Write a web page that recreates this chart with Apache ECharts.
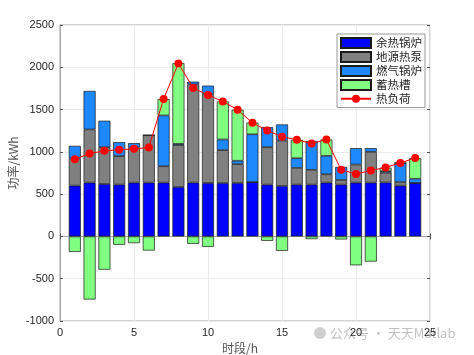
<!DOCTYPE html>
<html>
<head>
<meta charset="utf-8">
<script src="https://cdn.jsdelivr.net/npm/echarts@6/dist/echarts.min.js"></script>
<style>html,body{margin:0;padding:0;background:#fff;}#c{width:474px;height:355px;}</style>
</head>
<body>
<div id="c"></div>
<script>
// x positions (hours) and axis categories
const hours = [1,2,3,4,5,6,7,8,9,10,11,12,13,14,15,16,17,18,19,20,21,22,23,24];
const xCategories = ['0','1','2','3','4','5','6','7','8','9','10','11','12','13','14','15','16','17','18','19','20','21','22','23','24','25'];
const yTicks = [-1000,-500,0,500,1000,1500,2000,2500];

const seriesNames = ['余热锅炉','地源热泵','燃气锅炉','蓄热槽','热负荷'];
const wasteHeatBoiler = [601,636,621,613,636,636,636,585,636,632,632,632,642,613,597,613,613,636,613,636,636,638,600,632];
const groundSourcePump = [320,629,434,336,415,562,194,495,1163,1052,388,223,0,442,537,197,174,99,55,214,364,115,43,0];
const gasBoiler = [150,455,313,166,52,0,601,15,31,99,126,40,566,238,190,115,340,218,154,194,44,19,226,50];
const heatStorage = [-183,-746,-393,-99,-79,-167,194,953,-87,-123,451,603,138,-52,-171,217,-32,193,-36,-341,-298,40,0,243];
const heatLoad = [913,980,1012,1024,1036,1051,1625,2046,1755,1672,1595,1498,1344,1253,1178,1142,1099,1146,787,739,779,816,869,928];

const colors = ['#0000FF','#808080','#1E88FF','#80FF80','#FF0000'];

function toCat(arr){
  const out = xCategories.map(() => null);
  hours.forEach((h, i) => { out[xCategories.indexOf(String(h))] = arr[i]; });
  return out;
}
const every5 = (idx) => Number(xCategories[idx]) % 5 === 0;

const chart = echarts.init(document.getElementById('c'), null, {renderer:'canvas'});
const axisGray = '#a6a6a6';
const textCol = '#262626';

const barCommon = (name, arr, color) => ({
  name, type:'bar', stack:'total', data: toCat(arr), barWidth: 12,
  itemStyle:{color, borderColor:'#1a1a1a', borderWidth:0.7},
  emphasis:{disabled:true}
});

chart.setOption({
  animation:false,
  backgroundColor:'#fff',
  grid:{left:60, top:25, width:370, height:296, show:true, borderColor:axisGray, borderWidth:1, backgroundColor:'transparent'},
  legend:{
    orient:'vertical', left:337, top:34,
    data: seriesNames.map((n,i)=> i<4 ? {name:n, icon:'rect'} : {name:n}),
    backgroundColor:'#fff', borderColor:'#999', borderWidth:1, borderRadius:0,
    padding:[3,3,3,3], itemWidth:30, itemHeight:10, itemGap:2,
    textStyle:{fontSize:11.5, color:textCol, fontFamily:'"Noto Sans CJK SC"'}
  },
  xAxis:[{
    type:'category', data:xCategories, boundaryGap:false,
    axisLine:{show:true, lineStyle:{color:axisGray}},
    axisTick:{show:true, inside:true, length:3, interval: (i)=>every5(i), lineStyle:{color:'#555'}},
    axisLabel:{interval:(i)=>every5(i), color:textCol, fontSize:11, fontFamily:'"Liberation Sans", Arial', margin:6},
    splitLine:{show:true, interval:(i)=>every5(i), lineStyle:{color:'#ebebeb', width:1}}
  },{
    type:'category', data:xCategories, boundaryGap:false, position:'top',
    axisLine:{show:false}, axisLabel:{show:false}, splitLine:{show:false},
    axisTick:{show:true, inside:true, length:3, interval:(i)=>every5(i), lineStyle:{color:'#555'}}
  }],
  yAxis:[{
    type:'value', min:yTicks[0], max:yTicks[yTicks.length-1], interval:500,
    axisLine:{show:true, lineStyle:{color:axisGray}},
    axisTick:{show:true, inside:true, length:3, lineStyle:{color:'#555'}},
    axisLabel:{color:textCol, fontSize:11, fontFamily:'"Liberation Sans", Arial', margin:6, formatter:(v)=>String(v)},
    splitLine:{show:true, lineStyle:{color:'#ebebeb', width:1}}
  },{
    type:'value', min:yTicks[0], max:yTicks[yTicks.length-1], interval:500, position:'right',
    axisLine:{show:false}, axisLabel:{show:false}, splitLine:{show:false},
    axisTick:{show:true, inside:true, length:3, lineStyle:{color:'#555'}}
  }],
  series:[
    barCommon(seriesNames[0], wasteHeatBoiler, colors[0]),
    barCommon(seriesNames[1], groundSourcePump, colors[1]),
    barCommon(seriesNames[2], gasBoiler, colors[2]),
    barCommon(seriesNames[3], heatStorage, colors[3]),
    {
      name:seriesNames[4], type:'line', data: toCat(heatLoad), connectNulls:false,
      symbol:'circle', symbolSize:8, showSymbol:true,
      lineStyle:{color:colors[4], width:1}, itemStyle:{color:colors[4]},
      emphasis:{disabled:true}, z:5
    }
  ],
  graphic:[
    {type:'text', x:13, y:163, rotation:Math.PI/2, style:{text:'功率/kWh', fill:'#555', font:'12px "Noto Sans CJK SC"', textAlign:'center', textVerticalAlign:'middle'}},
    {type:'text', x:240, y:348, style:{text:'时段/h', fill:'#555', font:'12px "Noto Sans CJK SC"', textAlign:'center', textVerticalAlign:'middle'}},
    {type:'circle', x:320, y:333, shape:{r:6}, style:{fill:'rgba(170,170,170,0.55)'}},
    {type:'text', x:330, y:333, style:{text:'公众号 · 天天Matlab', fill:'rgba(150,150,150,0.6)', font:'13px "Noto Sans CJK SC"', textVerticalAlign:'middle'}}
  ]
});
</script>
</body>
</html>
